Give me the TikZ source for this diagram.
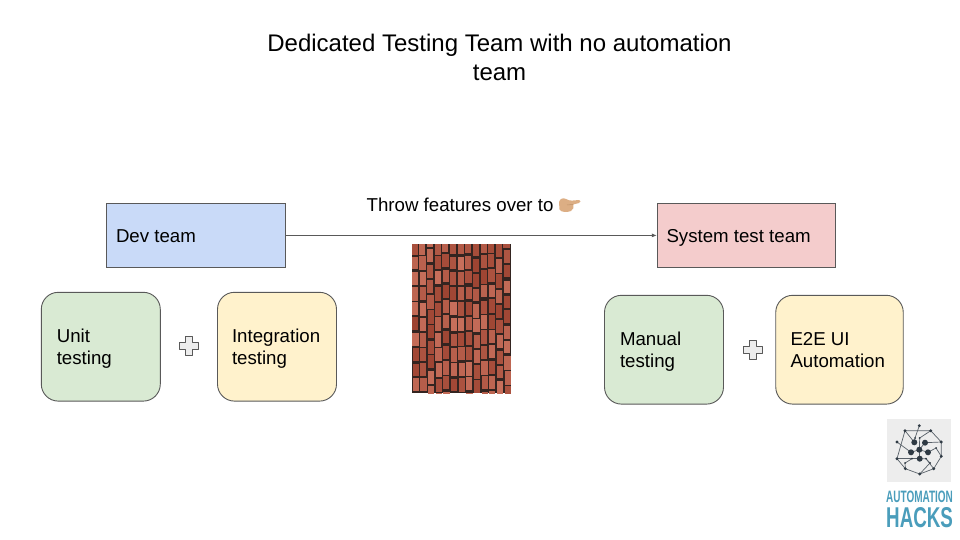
\documentclass[tikz,border=0pt]{standalone}
\usepackage{fontspec}
\usepackage{graphicx}
\setmainfont{Liberation Sans}
\usetikzlibrary{arrows.meta}
\definecolor{edgegrey}{HTML}{595959}
\definecolor{logoblue}{HTML}{4A9DBB}
\definecolor{logodark}{HTML}{2F3A44}
\definecolor{devblue}{RGB}{201,218,248}
\definecolor{syspink}{RGB}{244,204,204}
\definecolor{skillgreen}{RGB}{217,234,211}
\definecolor{skillyellow}{RGB}{255,242,204}
\definecolor{handskin}{RGB}{220,174,132}
\definecolor{handline}{RGB}{190,146,106}
\definecolor{mortar}{RGB}{52,36,32}
\tikzset{
  x=1pt,y=-1pt,
  team/.style={draw=edgegrey,line width=0.9pt,minimum width=178.5pt,minimum height=63.8pt,text width=160pt,align=flush left,inner sep=0pt,font=\fontsize{18.67}{22}\selectfont,text height=18.6pt,text depth=4pt},
  skill/.style={draw=edgegrey,line width=0.9pt,rounded corners=17pt,minimum height=108.8pt,align=flush left,inner sep=0pt,font=\fontsize{18.67}{22}\selectfont,text height=14pt,text depth=23.4pt},
  green skill/.style={skill,fill=skillgreen,minimum width=119pt,text width=88pt},
  yellow skill/.style={skill,fill=skillyellow,minimum width=119pt,text width=88pt},
  plus/.style={draw=edgegrey,line width=1.2pt,fill=black!7,line join=round},
  lbl/.style={inner sep=0pt,align=center,font=\fontsize{18.67}{22}\selectfont},
  logoedge/.style={draw=logodark!80,line width=0.7pt},
  big/.style={fill=logodark},
  small/.style={fill=logodark}
}
\begin{document}
\begin{tikzpicture}
\useasboundingbox (0,0) rectangle (960,540);
\fill[white] (0,0) rectangle (960,540);

% title
\node[inner sep=0pt,align=center,font=\fontsize{24}{29}\selectfont] (title) at (499.5,57.5) {Dedicated Testing Team with no automation\\team};

% team boxes
\node[team,fill=devblue] (dev) at (196,235.4) {Dev team};
\node[team,fill=syspink] (sys) at (746.5,235.4) {System test team};
\draw[edgegrey,line width=0.8pt,-{Latex[length=5pt,width=4pt]}] (dev) -- (sys);

% label
\node[lbl,anchor=west] (throw) at (366.5,204.5) {Throw features over to};

% pointing hand
\fill[handskin] (559,202) .. controls (560,198.5) and (563,197.5) .. (566,199) .. controls (568,200) and (570,200.8) .. (572,200.6) -- (579,200) .. controls (581,200) and (581,202.6) .. (579,203) -- (573.5,204.4) .. controls (574,207) and (573.5,209.5) .. (571,211) .. controls (567,212.6) and (561,212.4) .. (559.5,209.5) -- cycle;
\draw[handline,line width=0.5pt] (567,205) -- (573,204.4);

% skill boxes
\node[green skill] (unit) at (100.8,346.7) {Unit\\testing};
\node[yellow skill,text width=90pt] (integ) at (277,346.7) {Integration\\testing};
\node[green skill] (manual) at (664,349.7) {Manual\\testing};
\node[yellow skill,minimum width=127.5pt,text width=98pt] (e2e) at (839.5,349.7) {E2E UI\\Automation};

% plus signs
\foreach \cx/\cy in {189/346,753/350}{
  \draw[plus] (\cx-3.4,\cy-9.8) -- (\cx+3.4,\cy-9.8) -- (\cx+3.4,\cy-3.4) -- (\cx+9.8,\cy-3.4) -- (\cx+9.8,\cy+3.4) -- (\cx+3.4,\cy+3.4) -- (\cx+3.4,\cy+9.8) -- (\cx-3.4,\cy+9.8) -- (\cx-3.4,\cy+3.4) -- (\cx-9.8,\cy+3.4) -- (\cx-9.8,\cy-3.4) -- (\cx-3.4,\cy-3.4) -- cycle;
}

% brick wall
\begin{scope}
  \clip (412,244.5) rectangle (511,393);
  \fill[mortar] (412,244) rectangle (511,393);
  \pgfmathsetseed{4711}
  \foreach \c in {0,...,12}{
    \pgfmathsetmacro{\off}{rnd*15}
    \foreach \k in {-1,...,10}{
      \pgfmathsetmacro{\xa}{411.8+\c*7.65+(\k*0.12)}
      \pgfmathsetmacro{\ya}{244+\k*15.2+\off+rnd*1.0}
      \pgfmathsetmacro{\brh}{12.4+rnd*1.4}
      \pgfmathsetmacro{\brt}{rnd}
      \pgfmathtruncatemacro{\brr}{158+\brt*42}
      \pgfmathtruncatemacro{\brg}{68+\brt*44}
      \pgfmathtruncatemacro{\brb}{50+\brt*42}
      \definecolor{brickcol}{RGB}{\brr,\brg,\brb}
      \fill[brickcol] (\xa,\ya) rectangle ++(6.1,\brh);
    }
  }
\end{scope}

% logo
\fill[black!7] (887,418.5) rectangle (951,482);
\foreach \n/\px/\py in {a/919.3/425.7,b/905/430.7,c/930.7/430.7,d/897/442,e/941.3/442,f/897/458.7,g/941.3/456.3,h/905.3/468.7,i/933.7/468.7,j/919.7/474,k/914.3/442.3,l/925/442.7,m/919.3/449.7,o/911/452.3,p/928/452.3,q/919.7/458.7,r/919.7/438,s/912/458.7,t/926/458.7,u/915/438,v/936/448,w/905/463,x/930/463}{
  \coordinate (\n) at (\px,\py);
}
\draw[logoedge] (b) -- (c) -- (e) -- (g) -- (i) -- (j) -- (h) -- (f) -- (b);
\draw[logoedge] (a) -- (u) -- (k);
\draw[logoedge] (c) -- (r) -- (m);
\draw[logoedge] (b) -- (k);
\draw[logoedge] (e) -- (l) -- (m);
\draw[logoedge] (d) -- (o) -- (m);
\draw[logoedge] (f) -- (s) -- (q);
\draw[logoedge] (g) -- (v) -- (p) -- (m);
\draw[logoedge] (i) -- (t) -- (q) -- (m);
\draw[logoedge] (j) -- (x) -- (t);
\draw[logoedge] (h) -- (w) -- (s);
\foreach \n in {r,s,t,u,v,w,x}{\fill[small] (\n) circle[radius=1pt];}
\foreach \n in {a,b,c,d,e,f,g,h,i,j}{\fill[small] (\n) circle[radius=1.6pt];}
\foreach \n in {k,l,m,o,p,q}{\fill[big] (\n) circle[radius=3pt];}

\node[inner sep=0pt,text=logoblue,anchor=north west] (logoa) at (886,490.5) {\resizebox{66.7pt}{11.5pt}{\bfseries AUTOMATION}};
\node[inner sep=0pt,text=logoblue,anchor=north west] (logob) at (886,507.5) {\resizebox{66.7pt}{20pt}{\bfseries HACKS}};
\end{tikzpicture}
\end{document}
